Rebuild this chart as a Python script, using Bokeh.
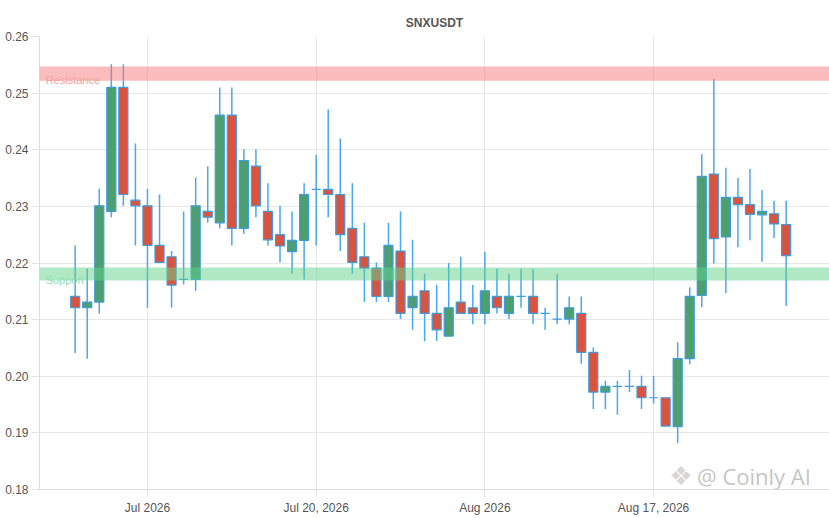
from bokeh.plotting import figure
from bokeh.models import ColumnDataSource, FixedTicker, BoxAnnotation, Label, Range1d, NumeralTickFormatter
from bokeh.embed import file_html
from bokeh.resources import INLINE

# ---- data ----
opens = [0.2141, 0.2121, 0.2131, 0.2291, 0.2510, 0.2311, 0.2301, 0.2231, 0.2211, 0.2171,
         0.2171, 0.2291, 0.2271, 0.2461, 0.2261, 0.2371, 0.2291, 0.2250, 0.2220, 0.2240,
         0.2330, 0.2330, 0.2321, 0.2261, 0.2211, 0.2191, 0.2141, 0.2221, 0.2121, 0.2151,
         0.2111, 0.2071, 0.2131, 0.2121, 0.2111, 0.2141, 0.2111, 0.2141, 0.2141, 0.2111,
         0.2101, 0.2101, 0.2111, 0.2042, 0.1972, 0.1982, 0.1982, 0.1982, 0.1962, 0.1962,
         0.1911, 0.2031, 0.2143, 0.2357, 0.2246, 0.2316, 0.2303, 0.2285, 0.2287, 0.2268]
highs = [0.2231, 0.2190, 0.2331, 0.2551, 0.2551, 0.2411, 0.2331, 0.2321, 0.2221, 0.2291,
         0.2351, 0.2371, 0.2510, 0.2510, 0.2401, 0.2401, 0.2341, 0.2301, 0.2291, 0.2341,
         0.2391, 0.2471, 0.2420, 0.2341, 0.2271, 0.2201, 0.2271, 0.2291, 0.2241, 0.2181,
         0.2161, 0.2200, 0.2211, 0.2161, 0.2220, 0.2190, 0.2181, 0.2190, 0.2190, 0.2121,
         0.2181, 0.2141, 0.2141, 0.2051, 0.1992, 0.1992, 0.2011, 0.2001, 0.2001, 0.1962,
         0.2060, 0.2157, 0.2392, 0.2525, 0.2368, 0.2350, 0.2366, 0.2329, 0.2310, 0.2310]
lows = [0.2041, 0.2031, 0.2111, 0.2281, 0.2301, 0.2231, 0.2121, 0.2201, 0.2121, 0.2162,
        0.2151, 0.2271, 0.2261, 0.2231, 0.2251, 0.2281, 0.2231, 0.2201, 0.2181, 0.2171,
        0.2231, 0.2281, 0.2221, 0.2181, 0.2131, 0.2131, 0.2131, 0.2101, 0.2082, 0.2062,
        0.2062, 0.2071, 0.2111, 0.2092, 0.2092, 0.2111, 0.2101, 0.2121, 0.2092, 0.2082,
        0.2092, 0.2092, 0.2022, 0.1942, 0.1942, 0.1932, 0.1972, 0.1942, 0.1952, 0.1912,
        0.1882, 0.2021, 0.2122, 0.2199, 0.2147, 0.2228, 0.2240, 0.2202, 0.2244, 0.2124]
closes = [0.2121, 0.2131, 0.2301, 0.2510, 0.2321, 0.2301, 0.2231, 0.2201, 0.2161, 0.2171,
          0.2301, 0.2281, 0.2461, 0.2261, 0.2381, 0.2301, 0.2241, 0.2230, 0.2240, 0.2321,
          0.2330, 0.2321, 0.2250, 0.2201, 0.2191, 0.2141, 0.2231, 0.2111, 0.2141, 0.2111,
          0.2082, 0.2121, 0.2111, 0.2111, 0.2151, 0.2121, 0.2141, 0.2141, 0.2111, 0.2111,
          0.2101, 0.2121, 0.2042, 0.1972, 0.1982, 0.1982, 0.1982, 0.1962, 0.1962, 0.1912,
          0.2031, 0.2141, 0.2353, 0.2243, 0.2316, 0.2303, 0.2286, 0.2291, 0.2269, 0.2213]

tick_index = [6, 20, 34, 48]
tick_labels = ["Jul 2026", "Jul 20, 2026", "Aug 2026", "Aug 17, 2026"]
y_ticks = [0.18, 0.19, 0.20, 0.21, 0.22, 0.23, 0.24, 0.25, 0.26]

resistance = (0.2522, 0.2547)
support = (0.2169, 0.2192)

# ---- build ----
n = len(opens)
idx = list(range(n))
up_color = "#4d9e70"
down_color = "#d8543e"
src = ColumnDataSource(dict(
    x=idx, open=opens, close=closes, high=highs, low=lows,
    top=[max(o, c) for o, c in zip(opens, closes)],
    bottom=[min(o, c) for o, c in zip(opens, closes)],
    color=[up_color if c > o else down_color for o, c in zip(opens, closes)],
))

FONT = "Liberation Sans"
p = figure(width=829, height=518, output_backend="svg", toolbar_location=None,
           x_range=Range1d(-2.96, 62.6), y_range=Range1d(0.18, 0.26),
           min_border_left=39, min_border_right=0, min_border_top=36, min_border_bottom=29)
p.outline_line_color = None
p.background_fill_color = "white"

p.title.text = "SNXUSDT"
p.title.align = "center"
p.title.text_font = FONT
p.title.text_font_size = "12px"
p.title.text_font_style = "bold"
p.title.text_color = "#555555"
p.title.standoff = 14

p.segment(x0="x", x1="x", y0="low", y1="high", source=src, line_color="#4aa8ec", line_width=1.5)
p.vbar(x="x", top="top", bottom="bottom", width=0.75, source=src,
       fill_color="color", line_color="#3d9be0", line_width=1.2)

p.xaxis.ticker = FixedTicker(ticks=tick_index)
p.xaxis.major_label_overrides = {t: l for t, l in zip(tick_index, tick_labels)}
p.yaxis.ticker = FixedTicker(ticks=y_ticks)
p.yaxis.formatter = NumeralTickFormatter(format="0.00")
p.xgrid.ticker = FixedTicker(ticks=tick_index)
for ax in (p.xaxis[0], p.yaxis[0]):
    ax.major_label_text_font = FONT
    ax.major_label_text_font_size = "12px"
    ax.major_label_text_color = "#555555"
    ax.axis_line_color = "#dcdcdc"
    ax.major_tick_line_color = "#e4e4e4"
    ax.major_tick_in = 0
    ax.minor_tick_line_color = None
p.yaxis.major_tick_out = 8
p.yaxis.major_label_standoff = 3
p.xaxis.major_tick_out = 8
p.xaxis.major_label_standoff = 3
p.xgrid.grid_line_color = "#e8e8e8"
p.ygrid.grid_line_color = "#e8e8e8"

p.add_layout(BoxAnnotation(bottom=resistance[0], top=resistance[1], fill_color="#f57979",
                           fill_alpha=0.5, line_color=None))
p.add_layout(BoxAnnotation(bottom=support[0], top=support[1], fill_color="#61d189",
                           fill_alpha=0.5, line_color=None))
p.add_layout(Label(x=-2.45, y=resistance[0] + 0.0002, text="Resistance", text_font=FONT,
                   text_font_size="11px", text_color="#f2a3a3", text_baseline="middle"))
p.add_layout(Label(x=-2.45, y=support[0] + 0.0001, text="Support", text_font=FONT,
                   text_font_size="11px", text_color="#98dcb0", text_baseline="middle"))

# watermark (kept inside the frame so it is not clipped)
wm_y = 0.1824
p.add_layout(Label(x=49.3, y=wm_y, text="\u2756", text_font="DejaVu Sans",
                   text_font_size="26px", text_color="#cccccc", text_alpha=0.8,
                   text_baseline="middle"))
p.add_layout(Label(x=51.6, y=wm_y, text="@ Coinly AI", text_font="Open Sans",
                   text_font_size="22px", text_color="#bdbdbd", text_alpha=0.9,
                   text_baseline="middle"))

open("out.html", "w").write(file_html(p, INLINE))
